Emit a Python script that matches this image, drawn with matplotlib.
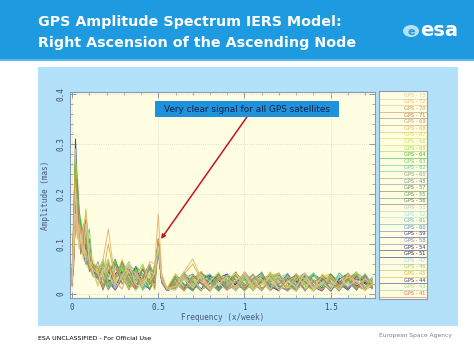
import numpy as np
import matplotlib.pyplot as plt
from matplotlib.patches import Rectangle, Circle

# frequency grid (cycles per week)
freq = [0.0, 0.01, 0.02, 0.03, 0.04, 0.05, 0.065, 0.08, 0.1, 0.12,
        0.15, 0.18, 0.21, 0.25, 0.29, 0.33, 0.37, 0.41, 0.45, 0.48,
        0.5, 0.52, 0.55,
        0.6, 0.65, 0.7, 0.75, 0.8, 0.85, 0.9, 0.95, 1.0, 1.05, 1.1, 1.15,
        1.2, 1.25, 1.3, 1.35, 1.4, 1.45, 1.5, 1.55, 1.6, 1.65, 1.7, 1.74]

# satellite labels, top to bottom as in the legend
labels = ['GPS - 73', 'GPS - 72', 'GPS - 70', 'GPS - 71', 'GPS - 69', 'GPS - 68',
          'GPS - 67', 'GPS - 66', 'GPS - 65', 'GPS - 64', 'GPS - 63', 'GPS - 62',
          'GPS - 60', 'GPS - 48', 'GPS - 57', 'GPS - 55', 'GPS - 56', 'GPS - 53',
          'GPS - 52', 'GPS - 61', 'GPS - 60', 'GPS - 59', 'GPS - 58', 'GPS - 54',
          'GPS - 51', 'GPS - 47', 'GPS - 46', 'GPS - 45', 'GPS - 44', 'GPS - 43',
          'GPS - 41']

colors = ['#d9c9a0', '#ecb878', '#c89050', '#a08060', '#c0a070', '#d8c060',
          '#e2dc40', '#c8e060', '#a0d840', '#40b840', '#70d070', '#5cc8a0',
          '#90a080', '#8090a0', '#6a8050', '#5aa060', '#707070', '#b8ccb8',
          '#a0e0e0', '#50b8d0', '#7080c0', '#4040a0', '#8080c8', '#303080',
          '#202060', '#a0d0e0', '#b0c060', '#e0b840', '#304080', '#a0d090',
          '#e07050']

# amplitudes in 0.001 mas, one list per satellite (same order as labels)
amp_73 = [30, 120, 210, 150, 90, 120, 80, 140, 70, 45, 20, 55, 40, 12, 35, 60, 18, 15, 45, 40, 95, 30, 10,
          8, 30, 12, 38, 10, 22, 6, 28, 40, 9, 20, 33, 7, 26, 14, 42, 10, 24, 8, 36, 15, 28, 6, 20]
amp_72 = [20, 80, 160, 110, 140, 100, 130, 160, 60, 50, 40, 70, 130, 25, 10, 55, 40, 20, 65, 60, 160, 40, 12,
          15, 45, 70, 30, 8, 20, 35, 12, 44, 14, 30, 8, 42, 16, 6, 28, 12, 35, 20, 9, 38, 18, 30, 22]
amp_70 = [40, 150, 250, 180, 120, 90, 140, 100, 80, 60, 50, 15, 60, 30, 65, 25, 10, 35, 50, 12, 105, 35, 8,
          22, 6, 30, 45, 10, 32, 8, 36, 14, 40, 10, 24, 32, 6, 20, 38, 26, 8, 34, 12, 28, 40, 9, 16]
amp_71 = [15, 60, 180, 230, 130, 80, 100, 150, 45, 55, 35, 8, 45, 60, 20, 40, 12, 50, 20, 35, 90, 25, 7,
          30, 10, 36, 22, 6, 40, 12, 26, 8, 30, 42, 14, 10, 28, 38, 6, 24, 34, 10, 20, 30, 8, 38, 14]
amp_69 = [25, 100, 170, 120, 160, 110, 90, 120, 70, 40, 65, 30, 10, 50, 35, 8, 45, 22, 60, 25, 100, 30, 9,
          25, 40, 12, 30, 8, 34, 28, 10, 44, 25, 6, 30, 20, 36, 12, 40, 15, 8, 32, 18, 42, 10, 26, 14]
amp_68 = [35, 140, 200, 160, 100, 130, 70, 85, 55, 35, 30, 45, 65, 20, 40, 10, 25, 55, 35, 8, 110, 28, 10,
          8, 34, 18, 40, 12, 30, 26, 6, 36, 12, 18, 44, 8, 25, 38, 30, 10, 22, 36, 8, 40, 24, 14, 30]
amp_67 = [20, 90, 140, 190, 120, 80, 110, 60, 50, 70, 40, 12, 55, 25, 70, 35, 10, 30, 20, 45, 95, 35, 12,
          40, 10, 30, 25, 6, 36, 28, 42, 14, 30, 8, 38, 24, 12, 35, 20, 6, 40, 28, 12, 34, 25, 8, 18]
amp_66 = [30, 110, 230, 140, 100, 90, 130, 160, 60, 45, 15, 50, 30, 60, 25, 45, 8, 20, 40, 30, 105, 25, 8,
          16, 38, 30, 8, 25, 44, 12, 28, 6, 24, 35, 30, 10, 22, 40, 12, 30, 8, 36, 16, 22, 42, 10, 20]
amp_65 = [40, 170, 290, 200, 150, 120, 100, 170, 90, 55, 45, 70, 20, 30, 50, 10, 35, 60, 22, 40, 100, 32, 10,
          25, 6, 38, 30, 8, 40, 26, 14, 36, 8, 22, 42, 30, 12, 28, 40, 8, 20, 35, 12, 26, 44, 10, 24]
amp_64 = [30, 130, 260, 210, 170, 140, 110, 150, 70, 60, 55, 15, 30, 65, 35, 12, 55, 40, 10, 35, 110, 30, 8,
          36, 20, 8, 40, 30, 10, 34, 22, 42, 12, 30, 8, 38, 24, 6, 35, 28, 10, 40, 16, 30, 44, 8, 26]
amp_63 = [20, 100, 200, 240, 180, 130, 90, 110, 130, 50, 40, 60, 12, 35, 55, 25, 50, 8, 25, 60, 100, 28, 9,
          12, 34, 26, 40, 8, 30, 14, 38, 28, 6, 40, 22, 10, 34, 30, 12, 42, 20, 8, 36, 28, 12, 30, 16]
amp_62 = [25, 90, 180, 130, 110, 150, 100, 80, 60, 40, 35, 45, 8, 30, 60, 20, 35, 10, 50, 28, 90, 26, 8,
          30, 8, 24, 36, 12, 40, 22, 6, 30, 38, 12, 26, 40, 14, 8, 30, 36, 22, 10, 42, 26, 8, 34, 22]
amp_60a = [35, 120, 220, 170, 130, 100, 80, 120, 60, 50, 40, 10, 50, 35, 60, 30, 45, 12, 22, 55, 105, 30, 9,
           22, 40, 30, 8, 20, 36, 26, 12, 44, 20, 8, 32, 38, 12, 18, 40, 24, 8, 30, 26, 12, 42, 30, 10]
amp_48 = [20, 80, 150, 210, 160, 110, 90, 140, 50, 60, 35, 60, 28, 8, 30, 55, 35, 20, 50, 25, 85, 25, 8,
          14, 36, 20, 6, 34, 30, 12, 40, 28, 8, 22, 38, 16, 6, 30, 42, 18, 10, 36, 24, 8, 34, 28, 12]
amp_57 = [30, 140, 270, 190, 120, 100, 130, 90, 110, 45, 40, 50, 12, 60, 45, 30, 8, 35, 60, 30, 110, 35, 10,
          40, 18, 8, 28, 38, 12, 26, 44, 16, 30, 8, 34, 24, 12, 40, 20, 6, 28, 36, 14, 30, 42, 10, 22]
amp_55 = [25, 110, 240, 160, 140, 120, 90, 160, 80, 55, 45, 15, 40, 70, 30, 50, 12, 30, 55, 40, 100, 28, 8,
          20, 38, 12, 42, 30, 8, 24, 36, 20, 10, 28, 40, 16, 8, 34, 24, 12, 38, 22, 6, 40, 26, 14, 30]
amp_56 = [20, 70, 160, 200, 130, 90, 80, 60, 70, 45, 30, 55, 10, 30, 45, 15, 25, 50, 20, 30, 95, 25, 7,
          16, 30, 8, 36, 22, 6, 28, 38, 12, 24, 34, 8, 20, 40, 14, 26, 8, 32, 20, 10, 36, 22, 8, 28]
amp_53 = [30, 100, 190, 150, 110, 130, 90, 70, 55, 40, 35, 30, 65, 25, 10, 48, 40, 25, 12, 35, 100, 30, 9,
          20, 8, 32, 40, 24, 12, 38, 30, 6, 26, 40, 18, 10, 34, 22, 8, 36, 28, 14, 42, 20, 10, 30, 24]
amp_52 = [25, 120, 210, 170, 130, 90, 110, 80, 60, 50, 40, 12, 30, 55, 25, 60, 30, 8, 35, 50, 105, 28, 8,
          30, 18, 8, 34, 40, 16, 30, 8, 22, 38, 26, 10, 32, 42, 16, 24, 6, 30, 36, 12, 28, 40, 14, 20]
amp_61 = [35, 130, 250, 190, 140, 110, 90, 150, 80, 60, 45, 65, 15, 35, 50, 25, 8, 55, 25, 30, 110, 32, 10,
          22, 40, 26, 8, 32, 38, 18, 10, 36, 26, 44, 12, 22, 34, 8, 28, 40, 16, 30, 8, 24, 38, 12, 34]
amp_60b = [20, 90, 170, 230, 150, 100, 80, 90, 60, 45, 35, 30, 60, 10, 35, 50, 20, 30, 55, 35, 95, 24, 8,
           14, 30, 40, 20, 6, 28, 36, 12, 34, 24, 8, 30, 40, 12, 26, 38, 8, 24, 32, 10, 36, 22, 12, 30]
amp_59 = [30, 150, 310, 220, 140, 110, 90, 70, 55, 40, 30, 55, 25, 8, 30, 45, 35, 12, 30, 22, 105, 26, 7,
          12, 34, 26, 8, 30, 14, 38, 28, 6, 24, 36, 20, 8, 32, 22, 40, 14, 6, 30, 26, 10, 36, 20, 12]
amp_58 = [25, 100, 200, 160, 120, 140, 80, 60, 70, 50, 40, 10, 35, 58, 40, 25, 50, 35, 8, 30, 100, 30, 9,
          34, 18, 6, 30, 40, 16, 26, 12, 38, 22, 8, 34, 28, 10, 40, 18, 30, 8, 26, 36, 12, 24, 38, 14]
amp_54 = [20, 110, 220, 180, 130, 100, 120, 80, 55, 45, 35, 60, 30, 12, 45, 30, 55, 20, 10, 30, 90, 25, 7,
          16, 36, 28, 8, 22, 40, 12, 26, 34, 8, 24, 38, 14, 22, 6, 36, 26, 12, 40, 20, 8, 30, 28, 16]
amp_51 = [30, 130, 260, 200, 150, 110, 90, 100, 70, 50, 40, 12, 45, 30, 65, 40, 15, 25, 50, 40, 105, 28, 9,
          20, 40, 24, 10, 36, 28, 8, 20, 42, 14, 30, 18, 8, 34, 26, 12, 38, 24, 6, 30, 40, 16, 24, 12]
amp_47 = [25, 90, 160, 200, 140, 100, 80, 60, 50, 40, 30, 50, 15, 20, 45, 25, 35, 8, 25, 48, 85, 22, 7,
          14, 32, 12, 26, 38, 8, 20, 30, 10, 34, 22, 6, 30, 40, 14, 24, 8, 36, 18, 30, 10, 26, 34, 12]
amp_46 = [35, 140, 230, 170, 130, 150, 100, 80, 65, 50, 40, 45, 70, 20, 35, 60, 15, 30, 55, 30, 110, 32, 10,
          22, 44, 16, 30, 8, 36, 28, 14, 40, 22, 10, 32, 42, 16, 26, 8, 38, 28, 12, 34, 24, 8, 40, 20]
amp_45 = [20, 100, 180, 150, 110, 120, 90, 110, 60, 45, 35, 40, 100, 30, 25, 60, 45, 12, 25, 35, 100, 28, 9,
          18, 40, 60, 28, 8, 34, 26, 12, 40, 14, 28, 36, 42, 10, 30, 22, 8, 34, 40, 20, 12, 38, 20, 26]
amp_44 = [25, 120, 240, 190, 130, 100, 80, 70, 55, 40, 35, 30, 10, 40, 55, 22, 30, 50, 20, 30, 95, 25, 8,
          30, 12, 36, 22, 8, 32, 40, 18, 10, 28, 36, 16, 6, 34, 26, 12, 38, 30, 8, 24, 36, 10, 28, 16]
amp_43 = [30, 110, 200, 220, 160, 120, 100, 140, 65, 50, 40, 60, 45, 12, 40, 65, 25, 30, 50, 30, 105, 30, 9,
          36, 16, 28, 42, 14, 24, 40, 8, 30, 20, 38, 26, 10, 36, 14, 28, 42, 16, 24, 8, 34, 26, 40, 22]
amp_41 = [20, 80, 150, 130, 100, 90, 110, 70, 50, 40, 30, 55, 25, 10, 30, 45, 35, 15, 30, 25, 90, 22, 7,
          16, 34, 10, 26, 38, 12, 20, 30, 8, 28, 36, 14, 20, 32, 8, 22, 38, 26, 10, 20, 30, 16, 8, 24]

amplitudes = [amp_73, amp_72, amp_70, amp_71, amp_69, amp_68, amp_67, amp_66, amp_65,
              amp_64, amp_63, amp_62, amp_60a, amp_48, amp_57, amp_55, amp_56, amp_53,
              amp_52, amp_61, amp_60b, amp_59, amp_58, amp_54, amp_51, amp_47, amp_46,
              amp_45, amp_44, amp_43, amp_41]

W, H = 474, 355


def fx(px):
    return px / W


def fy(py):
    return 1 - py / H


fig = plt.figure(figsize=(W / 100, H / 100), dpi=100)
fig.patch.set_facecolor('white')

# slide header
fig.add_artist(Rectangle((0, fy(60)), 1, 60 / H, transform=fig.transFigure,
                         facecolor='#1d9ae0', edgecolor='none', zorder=-10))
fig.add_artist(Rectangle((0, fy(61)), 1, 2 / H, transform=fig.transFigure,
                         facecolor='#5cb8ec', edgecolor='none', zorder=-10))
fig.text(fx(38), fy(22), 'GPS Amplitude Spectrum IERS Model:', color='white',
         fontsize=10.3, fontweight='bold', va='center', ha='left')
fig.text(fx(38), fy(43), 'Right Ascension of the Ascending Node', color='white',
         fontsize=10.3, fontweight='bold', va='center', ha='left')
fig.add_artist(Circle((fx(411), fy(31)), 8 / W, transform=fig.transFigure,
                      facecolor='#cfe9f8', edgecolor='none', alpha=0.9))
fig.text(fx(411), fy(32), 'e', color='#1d9ae0', fontsize=8, fontweight='bold',
         ha='center', va='center')
fig.text(fx(420), fy(31), 'esa', color='white', fontsize=14, fontweight='bold',
         ha='left', va='center')

# light blue panel behind the plot
fig.add_artist(Rectangle((fx(38), fy(326)), 420 / W, 259 / H, transform=fig.transFigure,
                         facecolor='#b3e1fa', edgecolor='none', zorder=-10))

# main plot (drawn bottom-of-legend first so the green/tan traces sit on top)
ax = fig.add_axes([fx(70), fy(298), 305 / W, 206 / H])
ax.set_facecolor('#fffde2')
for f_amp, c in list(zip(amplitudes, colors))[::-1]:
    ax.plot(freq, np.array(f_amp) / 1000.0, color=c, lw=0.7)

ax.set_xlim(-0.012, 1.757)
ax.set_ylim(-0.008, 0.404)
ax.set_xticks([0, 0.5, 1, 1.5])
ax.set_xticklabels(['0', '0.5', '1', '1.5'])
ax.set_xticks(np.arange(0, 1.76, 0.1), minor=True)
ax.set_yticks([0, 0.1, 0.2, 0.3, 0.4])
ax.set_yticklabels(['0', '0.1', '0.2', '0.3', '0.4'], rotation=90, va='center')
ax.set_yticks(np.arange(0, 0.41, 0.02), minor=True)
ax.tick_params(which='both', direction='in', top=True, right=True,
               colors='#7d8ea8', labelcolor='#3c4a66', labelsize=5.5)
ax.tick_params(which='major', length=4, width=0.6)
ax.tick_params(which='minor', length=2, width=0.5)
for lab in ax.get_xticklabels() + ax.get_yticklabels():
    lab.set_family('DejaVu Sans Mono')
ax.grid(True, which='major', color='#d8d4b8', lw=0.6, ls=':')
for s in ax.spines.values():
    s.set_color('#8a9ab4')
    s.set_linewidth(0.8)

fig.text(fx(46), fy(195), 'Amplitude (mas)', rotation=90, ha='center', va='center',
         fontsize=5.5, family='DejaVu Sans Mono', color='#4a5878')
fig.text(fx(223), fy(318), 'Frequency (x/week)', ha='center', va='center',
         fontsize=5.5, family='DejaVu Sans Mono', color='#4a5878')

# call-out box with arrow
fig.add_artist(Rectangle((fx(155), fy(117)), 184 / W, 16 / H, transform=fig.transFigure,
                         facecolor='#1f92da', edgecolor='none', zorder=5))
fig.text(fx(247), fy(109), 'Very clear signal for all GPS satellites', ha='center',
         va='center', fontsize=6.4, color='#0b2350', zorder=6)
ax.annotate('', xy=(0.516, 0.11), xytext=(1.014, 0.354),
            arrowprops=dict(arrowstyle='-|>', color='#c8141e', lw=1.1,
                            mutation_scale=6, shrinkA=0, shrinkB=0))

# legend column
lax = fig.add_axes([fx(379), fy(299), 48 / W, 208 / H])
lax.set_facecolor('#fffde2')
lax.set_xlim(0, 1)
lax.set_ylim(len(labels) + 0.2, -0.3)
lax.set_xticks([])
lax.set_yticks([])
for s in lax.spines.values():
    s.set_color('#8a9ab4')
    s.set_linewidth(0.8)
for i, (lab, c) in enumerate(zip(labels, colors)):
    lax.text(0.97, i + 0.35, lab, ha='right', va='center', fontsize=3.6, color=c)
    lax.plot([0, 1], [i + 0.85, i + 0.85], color=c, lw=0.5, alpha=0.8)

# footer
fig.text(fx(38), fy(338), 'ESA UNCLASSIFIED - For Official Use', fontsize=4.5,
         color='black', ha='left', va='center')
fig.text(fx(452), fy(336), 'European Space Agency', fontsize=4.3,
         color='#808080', ha='right', va='center')

fig.savefig('out.png', dpi=100)
